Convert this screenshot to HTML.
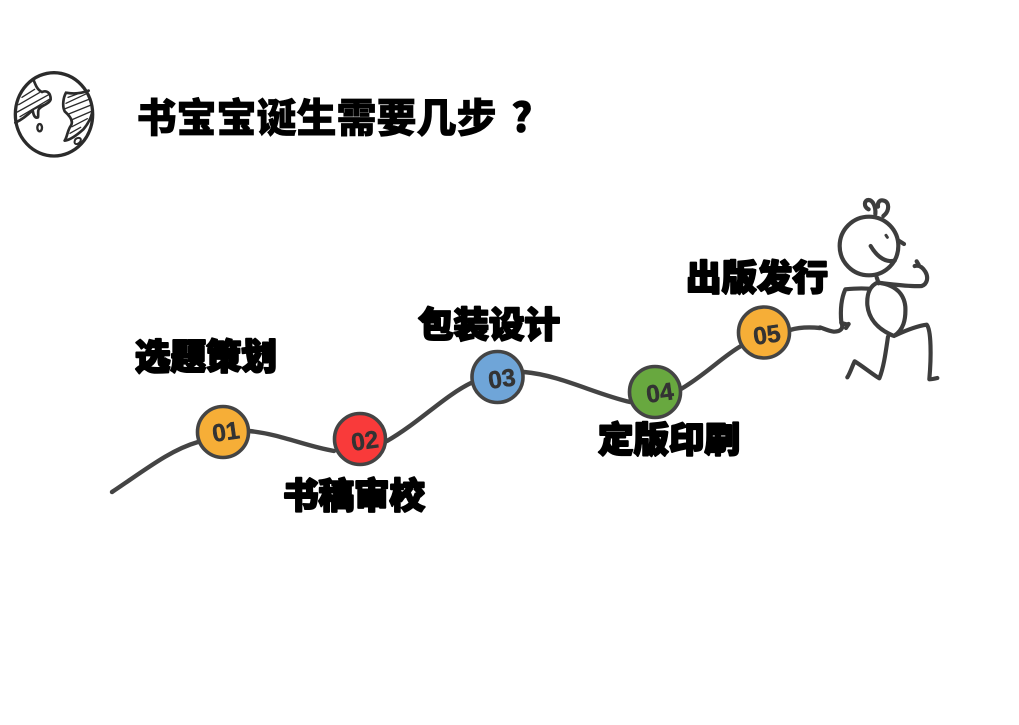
<!DOCTYPE html>
<html lang="zh">
<head>
<meta charset="utf-8">
<style>
html,body{margin:0;padding:0;background:#fff;width:1019px;height:725px;overflow:hidden}
svg{display:block}
.t{font-family:"Noto Sans CJK SC",sans-serif;font-weight:900;fill:#000;stroke:#000;stroke-width:.7}
.l{font-family:"Noto Sans CJK SC",sans-serif;font-weight:900;font-size:35.500px;fill:#000;stroke:#000;stroke-width:2;stroke-linejoin:round;paint-order:stroke}
.n{font-family:"Liberation Sans",sans-serif;font-weight:700;font-size:24.500px;fill:#333;text-anchor:middle;stroke:#333;stroke-width:.5}
</style>
</head>
<body>
<svg width="1019" height="725" viewBox="0 0 1019 725" xmlns="http://www.w3.org/2000/svg">
<rect width="1019" height="725" fill="#fff"/>

<!-- globe -->
<g transform="translate(0,60) scale(.33333)" fill="none" stroke="#2b2b2b" stroke-linecap="round" stroke-linejoin="round">
  <ellipse cx="162" cy="163" rx="116" ry="125" stroke-width="10"/>
  <path d="M100 58C106 74 112 90 126 96C140 90 152 98 152 118C150 130 126 136 118 146C112 150 116 164 114 172C104 176 100 164 98 150C84 164 68 178 46 188" stroke-width="8"/>
  <path d="M198 98C220 102 245 100 266 92M198 98C190 112 186 138 194 154C210 168 222 184 212 198C202 212 202 230 194 242C210 240 232 224 250 208C262 194 272 176 276 160" stroke-width="8"/>
  <path d="M226 238C236 230 248 234 240 246C232 256 218 254 226 238Z" stroke-width="6"/>
  <ellipse cx="119" cy="203" rx="7" ry="11" stroke-width="7"/>
  <g stroke-width="4">
    <path d="M66 112L104 88M56 134L118 98M52 156L146 104M60 170L148 118M90 154L130 134"/>
    <path d="M204 112L232 102M198 130L262 100M196 146L272 116M206 162L276 134M214 180L274 154M216 200L262 176M210 220L242 202"/>
  </g>
</g>

<text class="t" x="136.500" y="132" font-size="40">书宝宝诞生需要几步</text>
<text class="t" x="511" y="132" font-size="40">?</text>

<!-- path -->
<g fill="none" stroke="#444" stroke-width="4.400" stroke-linecap="round">
  <path d="M112 492C145 470 170 450 198 442"/>
  <path d="M249 431C280 434 305 446 334 451"/>
  <path d="M387 441C420 422 445 395 473 382"/>
  <path d="M524 372C560 375 595 394 630 402"/>
  <path d="M681 389C705 375 722 357 741 346"/>
  <path d="M790 330C800 327 810 327 820 328"/>
</g>

<g stroke="#444" stroke-width="3.600">
  <circle cx="223" cy="432" r="25.500" fill="#f6ae37"/>
  <circle cx="360" cy="439" r="25.500" fill="#f93a3a"/>
  <circle cx="497.500" cy="377" r="25.500" fill="#6fa5d8"/>
  <circle cx="655" cy="392" r="25.500" fill="#68a83f"/>
  <circle cx="764" cy="332.500" r="25.500" fill="#f6ae37"/>
</g>
<text class="n" transform="translate(227,440) rotate(-8)">01</text>
<text class="n" transform="translate(366,449) rotate(-8)">02</text>
<text class="n" transform="translate(503,387) rotate(-8)">03</text>
<text class="n" transform="translate(661,401) rotate(-8)">04</text>
<text class="n" transform="translate(768,343) rotate(-8)">05</text>

<text class="l" x="135" y="369">选题策划</text>
<text class="l" x="283" y="508">书稿审校</text>
<text class="l" x="418" y="337">包装设计</text>
<text class="l" x="598" y="452">定版印刷</text>
<text class="l" x="686" y="290">出版发行</text>

<!-- runner -->
<g transform="translate(820,190) scale(.33333)" fill="none" stroke="#3d3d3d" stroke-width="12.500" stroke-linecap="round" stroke-linejoin="round">
  <circle cx="147" cy="168" r="88"/>
  <path d="M166 72C168 50 158 30 146 30C132 30 130 50 146 58"/>
  <path d="M190 78C210 62 208 36 192 32C180 28 172 36 174 50"/>
  <path d="M152 168C165 190 190 220 224 212"/>
  <path d="M198 136L202 142" stroke-width="9"/>
  <path d="M236 152L252 162"/>
  <path d="M170 262L176 280"/>
  <path d="M176 278C220 284 270 290 305 288C322 282 326 262 316 245C308 232 298 224 284 228M290 214L296 224"/>
  <path d="M172 278C150 288 140 310 142 345C146 385 172 418 222 438C250 420 258 390 256 350C252 310 225 285 176 278"/>
  <path d="M146 296C120 294 95 296 76 298C66 320 60 355 64 398C72 415 62 425 42 425C26 423 12 416 0 412"/>
  <path d="M64 398C72 402 80 404 86 402M78 414L86 402"/>
  <path d="M204 440C198 480 192 530 178 565C160 555 130 530 104 514C96 530 90 550 82 562"/>
  <path d="M226 436C260 420 290 408 320 404C334 420 334 500 328 568C336 568 344 566 352 564"/>
</g>
</svg>
</body>
</html>
